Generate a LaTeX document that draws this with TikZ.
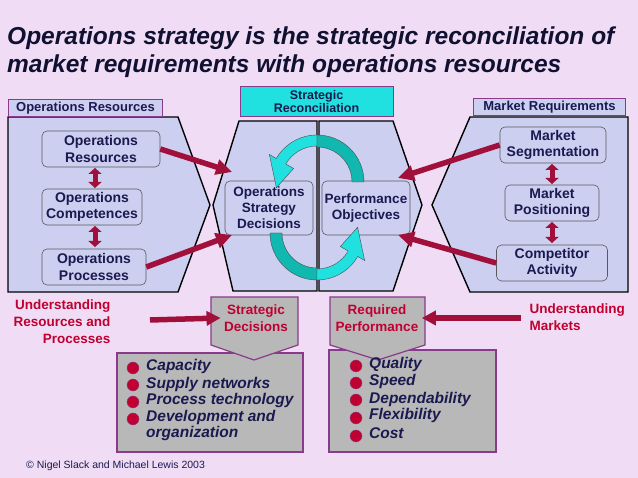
\documentclass[tikz,border=0pt]{standalone}
\usepackage{fontspec}
\setmainfont{Liberation Sans}
\usetikzlibrary{arrows.meta}
\definecolor{bg}{HTML}{F0DDF5}
\definecolor{panel}{HTML}{CCCFF0}
\definecolor{navy}{HTML}{1A1A50}
\definecolor{ttl}{HTML}{101030}
\definecolor{dred}{HTML}{C00030}
\definecolor{arr}{HTML}{A0103A}
\definecolor{cy}{HTML}{20E0E0}
\definecolor{teal}{HTML}{10B8B0}
\definecolor{purp}{HTML}{8A3A8A}
\definecolor{gbox}{HTML}{B8B8B8}
\tikzset{
 sh/.style={draw=black,line width=1.4pt,fill=panel},
 lbl/.style={draw=purp,line width=1pt,fill=panel,font=\fontsize{13}{14}\selectfont\bfseries,text=navy,inner sep=1pt,anchor=west},
 bx/.style={draw=gray!70!black,line width=0.6pt,fill=panel,rounded corners=5pt,align=center,font=\fontsize{14}{16.5}\selectfont\bfseries,text=navy,inner sep=2pt},
 dbl/.style={arr,line width=5pt,{Triangle[length=6pt,width=13pt]}-{Triangle[length=6pt,width=13pt]}},
 rtxt/.style={text=dred,font=\fontsize{13.5}{17}\selectfont\bfseries,align=center},
 gb/.style={draw=purp,line width=1.2pt,fill=gbox},
 it/.style={font=\fontsize{15.5}{16}\selectfont\bfseries\itshape,text=navy,anchor=west,inner sep=0pt},
 dot/.style={circle,fill=dred,draw=purp,inner sep=0pt,minimum size=12pt},
}
\begin{document}
\begin{tikzpicture}[x=1pt,y=1pt]
\fill[bg] (0,0) rectangle (638,478);
\useasboundingbox (0,0) rectangle (638,478);
% title
\node[anchor=west,inner sep=0pt,text=ttl,font=\fontsize{24.5}{26}\selectfont\bfseries\itshape] (t1) at (7,440) {Operations strategy is the strategic reconciliation of};
\node[anchor=west,inner sep=0pt,text=ttl,font=\fontsize{24.5}{26}\selectfont\bfseries\itshape] (t2) at (7,412) {market requirements with operations resources};
% panels
\draw[sh] (8,361) -- (178,361) -- (210,273) -- (178,186) -- (8,186) -- cycle;
\draw[sh] (239,357) -- (317,357) -- (317,187) -- (233,187) -- (213,273) -- cycle;
\draw[sh] (319,357) -- (393,357) -- (422,273) -- (393,187) -- (319,187) -- cycle;
\draw[sh] (470,361) -- (628,361) -- (628,186) -- (470,186) -- (432,273) -- cycle;
\node[lbl,minimum width=154pt,minimum height=17pt,align=left] (lr) at (8,369.5) {Operations Resources};
\node[lbl,minimum width=152pt,minimum height=17pt,anchor=east] (lm) at (626,371) {\hfill Market Requirements};
\node[draw=purp,line width=1pt,fill=cy,minimum width=153pt,minimum height=30pt,align=center,text=navy,font=\fontsize{12.5}{13}\selectfont\bfseries,inner sep=0pt] (sr) at (316.5,376) {Strategic\\Reconciliation};
% left nodes
\node[bx,minimum width=118pt,minimum height=36pt] (or) at (101,329) {Operations\\Resources};
\node[bx,minimum width=100pt,minimum height=36pt] (oc) at (92,271) {Operations\\Competences};
\node[bx,minimum width=104pt,minimum height=36pt] (op) at (94,211) {Operations\\Processes};
\draw[dbl] (95,310) -- (95,290);
\draw[dbl] (95,252) -- (95,231);
% right nodes
\node[bx,minimum width=106pt,minimum height=36pt] (ms) at (553,333) {Market\\Segmentation};
\node[bx,minimum width=94pt,minimum height=36pt] (mp) at (552,275) {Market\\Positioning};
\node[bx,minimum width=111pt,minimum height=36pt] (ca) at (552,215) {Competitor\\Activity};
\draw[dbl] (552,314) -- (552,294);
\draw[dbl] (552,256) -- (552,235);
% center boxes
\node[bx,minimum width=88pt,minimum height=54pt,font=\fontsize{13.5}{16}\selectfont\bfseries] (osd) at (269,270) {Operations\\Strategy\\Decisions};
\node[bx,minimum width=88pt,minimum height=54pt,font=\fontsize{13.5}{16}\selectfont\bfseries] (po) at (366,270) {Performance\\Objectives};
% cyclic arrows
\coordinate (c1) at (317,296);
\coordinate (c2) at (317,245);
\fill[cy,draw=black!70,line width=0.4pt] ([shift={(c1)}]90:47) arc[start angle=90,end angle=150,radius=47] -- ([shift={(c1)}]150:55) -- ([shift={(c1)}]188:41) -- ([shift={(c1)}]150:27) -- ([shift={(c1)}]150:36) arc[start angle=150,end angle=90,radius=36] -- cycle;
\fill[teal,draw=black!70,line width=0.4pt] ([shift={(c1)}]90:47) arc[start angle=90,end angle=0,radius=47] -- ([shift={(c1)}]0:35) arc[start angle=0,end angle=90,radius=35] -- cycle;
\fill[teal,draw=black!70,line width=0.4pt] ([shift={(c2)}]270:47) arc[start angle=270,end angle=180,radius=47] -- ([shift={(c2)}]180:35) arc[start angle=180,end angle=270,radius=35] -- cycle;
\fill[cy,draw=black!70,line width=0.4pt] ([shift={(c2)}]270:47) arc[start angle=270,end angle=330,radius=47] -- ([shift={(c2)}]330:55) -- ([shift={(c2)}]8:41) -- ([shift={(c2)}]330:27) -- ([shift={(c2)}]330:36) arc[start angle=330,end angle=270,radius=36] -- cycle;
% red arrows
\draw[arr,line width=5.5pt,-{Triangle[length=16pt,width=15pt]}] (or.east) -- (232,306);
\draw[arr,line width=5.5pt,-{Triangle[length=16pt,width=15pt]}] (op.east) -- (232,243);
\draw[arr,line width=5.5pt,-{Triangle[length=16pt,width=15pt]}] (ms.west) -- (398,300);
\draw[arr,line width=5.5pt,-{Triangle[length=16pt,width=15pt]}] (ca.west) -- (398,243);
% bottom
\node[rtxt,align=right,anchor=east] (ur) at (114,156) {Understanding\\Resources and\\Processes};
\node[rtxt,align=left,anchor=west] (um) at (526,161) {Understanding\\Markets};
\draw[gb] (117,26) rectangle (303,125);
\draw[gb] (329,26) rectangle (496,128);
\draw[gb] (211,181) -- (298,181) -- (298,133) -- (254,118) -- (211,133) -- cycle;
\draw[gb] (330,181) -- (425,181) -- (425,133) -- (378,118) -- (330,133) -- cycle;
\node[rtxt] (sd) at (256,160) {Strategic\\Decisions};
\node[rtxt] (rp) at (377,160) {Required\\Performance};
\coordinate (a1) at (150,158);
\draw[arr,line width=5.5pt,-{Triangle[length=14pt,width=14pt]}] (a1) -- (sd.west);
\coordinate (a2) at (521,160);
\draw[arr,line width=5.5pt,-{Triangle[length=14pt,width=14pt]}] (a2) -- (rp.east);
% bullets left
\node[dot] (d1) at (133,110) {}; \node[it] (i1) at (146,111) {Capacity};
\node[dot] (d2) at (133,93) {}; \node[it] (i2) at (146,94) {Supply networks};
\node[dot] (d3) at (133,76) {}; \node[it] (i3) at (146,77) {Process technology};
\node[dot] (d4) at (133,59) {}; \node[it,align=left] (i4) at (146,53) {Development and\\organization};
% bullets right
\node[dot] (e1) at (356,112) {}; \node[it] (j1) at (369,113) {Quality};
\node[dot] (e2) at (356,95) {}; \node[it] (j2) at (369,96) {Speed};
\node[dot] (e3) at (356,78) {}; \node[it] (j3) at (369,79) {Dependability};
\node[dot] (e4) at (356,60) {}; \node[it] (j4) at (369,63) {Flexibility};
\node[dot] (e5) at (356,42) {}; \node[it] (j5) at (369,45) {Cost};
\node[anchor=west,inner sep=0pt,text=navy,font=\fontsize{10.5}{12}\selectfont] (cp) at (26,12) {© Nigel Slack and Michael Lewis 2003};
\end{tikzpicture}
\end{document}
